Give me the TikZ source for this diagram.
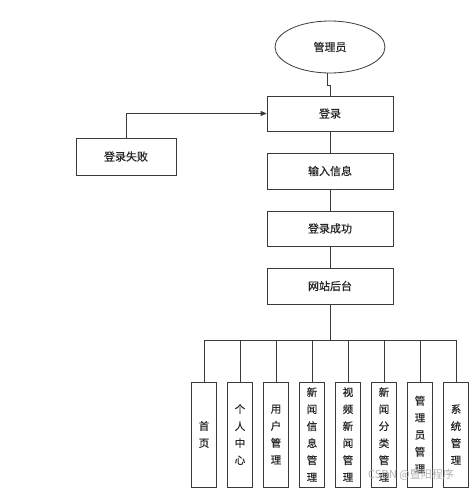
\documentclass[tikz,border=0pt]{standalone}
\usepackage{fontspec}
\setmainfont[FakeBold=0.6]{Noto Sans CJK SC}
\newfontfamily\wmfont{Noto Sans CJK SC}
\usetikzlibrary{shapes.geometric,arrows.meta,calc}
\definecolor{linec}{HTML}{3A3A3A}
\begin{document}
\begin{tikzpicture}[x=1pt,y=-1pt,line width=0.8pt,
  box/.style={draw=linec,fill=white,minimum width=126pt,minimum height=36pt,inner sep=0pt,text=black!85,font=\fontsize{11}{13}\selectfont},
  vbox/.style={draw=linec,fill=white,minimum width=25pt,minimum height=105pt,inner sep=0pt,align=center,text=black!85,font=\fontsize{10.5}{17}\selectfont},
  conn/.style={draw=linec,line width=0.8pt}]
\useasboundingbox (0,0) rectangle (474,489);
\node[draw=linec,ellipse,minimum width=110pt,minimum height=52pt,inner sep=0pt,text=black!85,font=\fontsize{11}{13}\selectfont] (ell) at (330,47) {管理员};
\node[box,minimum height=35pt] (login) at (330,113.5) {登录};
\node[box,minimum width=100pt,minimum height=37pt] (fail) at (126,156.5) {登录失败};
\node[box] (input) at (330,171) {输入信息};
\node[box,minimum height=35pt] (succ) at (330,228.5) {登录成功};
\node[box] (site) at (330,286) {网站后台};
\node[vbox] (b1) at (204,434.5) {首\\页};
\node[vbox] (b2) at (240,434.5) {个\\人\\中\\心};
\node[vbox] (b3) at (276,434.5) {用\\户\\管\\理};
\node[vbox] (b4) at (312,434.5) {新\\闻\\信\\息\\管\\理};
\node[vbox] (b5) at (348,434.5) {视\\频\\新\\闻\\管\\理};
\node[vbox] (b6) at (384,434.5) {新\\闻\\分\\类\\管\\理};
\node[vbox] (b7) at (420,434.5) {管\\理\\员\\管\\理};
\node[vbox] (b8) at (456,434.5) {系\\统\\管\\理};
\coordinate (j1) at (327,85);
\coordinate (bus) at (330,340);
\draw[conn] ($(ell.south)+(-3,0)$) -- (j1) -- ++(3,0) -- (login.north);
\draw[conn] (login.south) -- (input.north);
\draw[conn] (input.south) -- (succ.north);
\draw[conn] (succ.south) -- (site.north);
\draw[conn,-{Triangle[length=6pt,width=5pt]}] (fail.north) |- (login.west);
\draw[conn] (site.south) -- (bus);
\draw[conn] (b1.north |- bus) -- (b8.north |- bus);
\foreach \i in {1,...,8} {\draw[conn] (b\i.north) -- (b\i.north |- bus);}
\node[text=black!30,font=\wmfont\fontsize{11}{13}\selectfont,inner sep=0pt] (wm) at (411,475) {CSDN @暨阳程序};
\end{tikzpicture}
\end{document}
